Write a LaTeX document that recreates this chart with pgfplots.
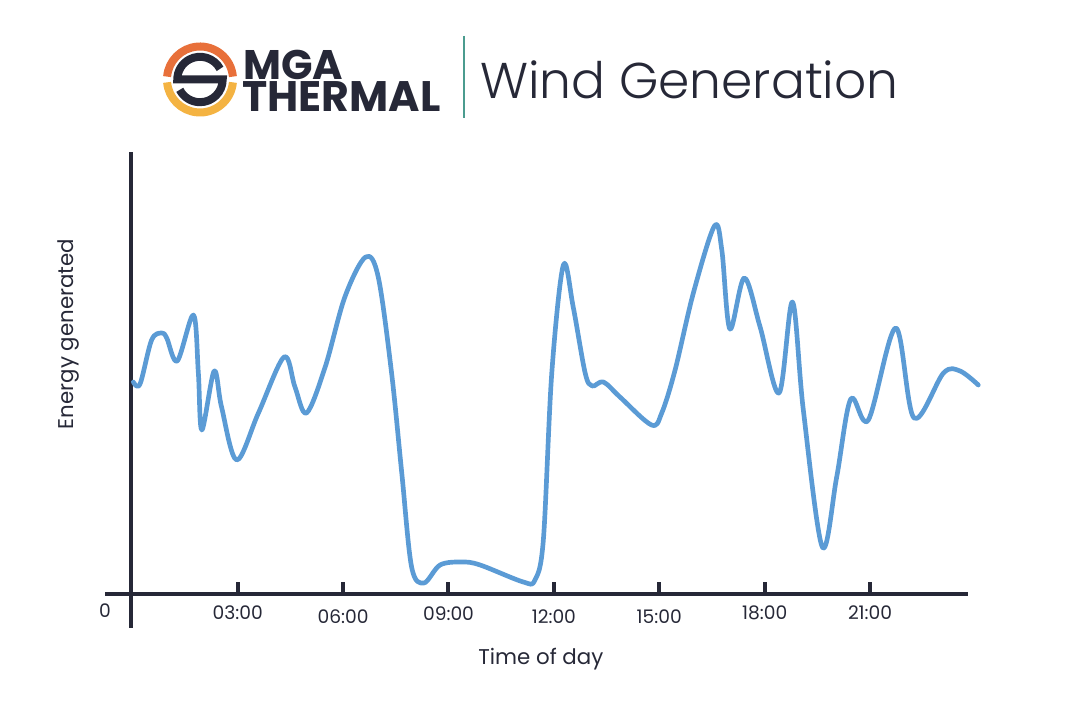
\documentclass[border=0pt]{standalone}
\usepackage{fontspec}
\setmainfont{Poppins}
\newfontfamily\titlefont{Poppins Light}
\usepackage{pgfplots}
\pgfplotsset{compat=1.18}

\definecolor{ink}{HTML}{262837}
\definecolor{lineblue}{HTML}{5B9BD5}
\definecolor{logoorange}{HTML}{E8703A}
\definecolor{logoyellow}{HTML}{F4B342}
\definecolor{divider}{HTML}{4B9C8F}

\pgfplotstableread{
h     e
0.03  212
0.22  210
0.55  254
0.84  261
0.98  256
1.28  233
1.74  279
1.88  221
1.98  164
2.33  223
2.54  187
2.97  134
3.59  181
4.32  237
4.63  207
4.96  181
5.49  227
6.05  297
6.64  337
7.00  317
7.38  221
7.67  121
7.95  27
8.30  11
8.76  29
9.38  32
9.90  29
11.13 12
11.46 14
11.70 54
11.94 221
12.27 329
12.55 287
12.89 221
13.09 208
13.41 212
13.88 197
14.78 169
15.07 181
15.45 224
15.97 301
16.57 368
16.78 344
17.01 265
17.42 316
17.87 267
18.41 201
18.79 292
19.10 184
19.64 47
20.05 117
20.45 195
20.95 174
21.73 266
22.25 176
23.09 221
23.56 223
24.08 209
}\windtable

\begin{document}
\begin{tikzpicture}
\path[use as bounding box] (0,0) rectangle (801pt,529.5pt);
\begin{axis}[
  at={(0,0)}, anchor=south west,
  scale only axis, width=801pt, height=529.5pt,
  hide axis, clip=false,
  xmin=-3.766, xmax=26.634,
  ymin=-112, ymax=594,
]
  % axis lines
  \draw[ink, line width=3pt] (axis cs:-0.776,0) -- (axis cs:23.79,0);
  \draw[ink, line width=3pt] (axis cs:-0.037,-34) -- (axis cs:-0.037,442);
  % hour ticks
  \pgfplotsinvokeforeach{3,6,9,12,15,18,21}{
    \draw[ink, line width=3pt] (axis cs:#1,0) -- (axis cs:#1,12);
  }
  \node[ink, font=\fontsize{14}{15}\selectfont] at (axis cs:-0.776,-17) {0};
  \node[ink, font=\fontsize{14}{15}\selectfont] at (axis cs:3,-19)  {03:00};
  \node[ink, font=\fontsize{14}{15}\selectfont] at (axis cs:6,-23)  {06:00};
  \node[ink, font=\fontsize{14}{15}\selectfont] at (axis cs:9,-20)  {09:00};
  \node[ink, font=\fontsize{14}{15}\selectfont] at (axis cs:12,-23) {12:00};
  \node[ink, font=\fontsize{14}{15}\selectfont] at (axis cs:15,-23) {15:00};
  \node[ink, font=\fontsize{14}{15}\selectfont] at (axis cs:18,-19) {18:00};
  \node[ink, font=\fontsize{14}{15}\selectfont] at (axis cs:21,-19) {21:00};
  \node[ink, font=\fontsize{16}{18}\selectfont] at (axis cs:11.63,-65) {Time of day};
  \node[ink, font=\fontsize{16}{18}\selectfont, rotate=90] at (axis cs:-1.83,260) {Energy generated};

  \addplot[lineblue, line width=3.5pt, smooth, tension=0.55, line join=round, line cap=round]
    table[x=h, y=e] {\windtable};
\end{axis}

% header: logo, divider and title, in pixel units from the top left
% (y points down here, so angles are measured clockwise)
\begin{scope}[x=0.75pt, y=-0.75pt, shift={(0,529.5pt)}]
  \draw[logoorange, line width=6pt] (200,79.5) ++(-5:33) arc[start angle=-5, end angle=-175, radius=33];
  \draw[logoyellow, line width=6pt] (200,79.5) ++(5:33) arc[start angle=5, end angle=175, radius=33];
  \draw[ink, line width=6pt] (200,79.5) ++(-28:22.7) arc[start angle=-28, end angle=-180, radius=22.7]
        -- ++(45.4,0) arc[start angle=0, end angle=153, radius=22.7];
  \node[ink, anchor=base west, inner sep=0pt, text depth=0pt, font=\fontsize{31}{31}\selectfont\bfseries] at (243,80) {MGA};
  \node[ink, anchor=base west, inner sep=0pt, text height=22pt, font=\fontsize{32}{32}\selectfont\bfseries] at (242,112) {THERMAL};
  \draw[divider, line width=2pt] (464,36) -- (464,118);
  \node[ink, anchor=base west, inner sep=0pt, font=\titlefont\fontsize{37.7}{40}\selectfont] at (480,99) {Wind Generation};
\end{scope}
\end{tikzpicture}
\end{document}
